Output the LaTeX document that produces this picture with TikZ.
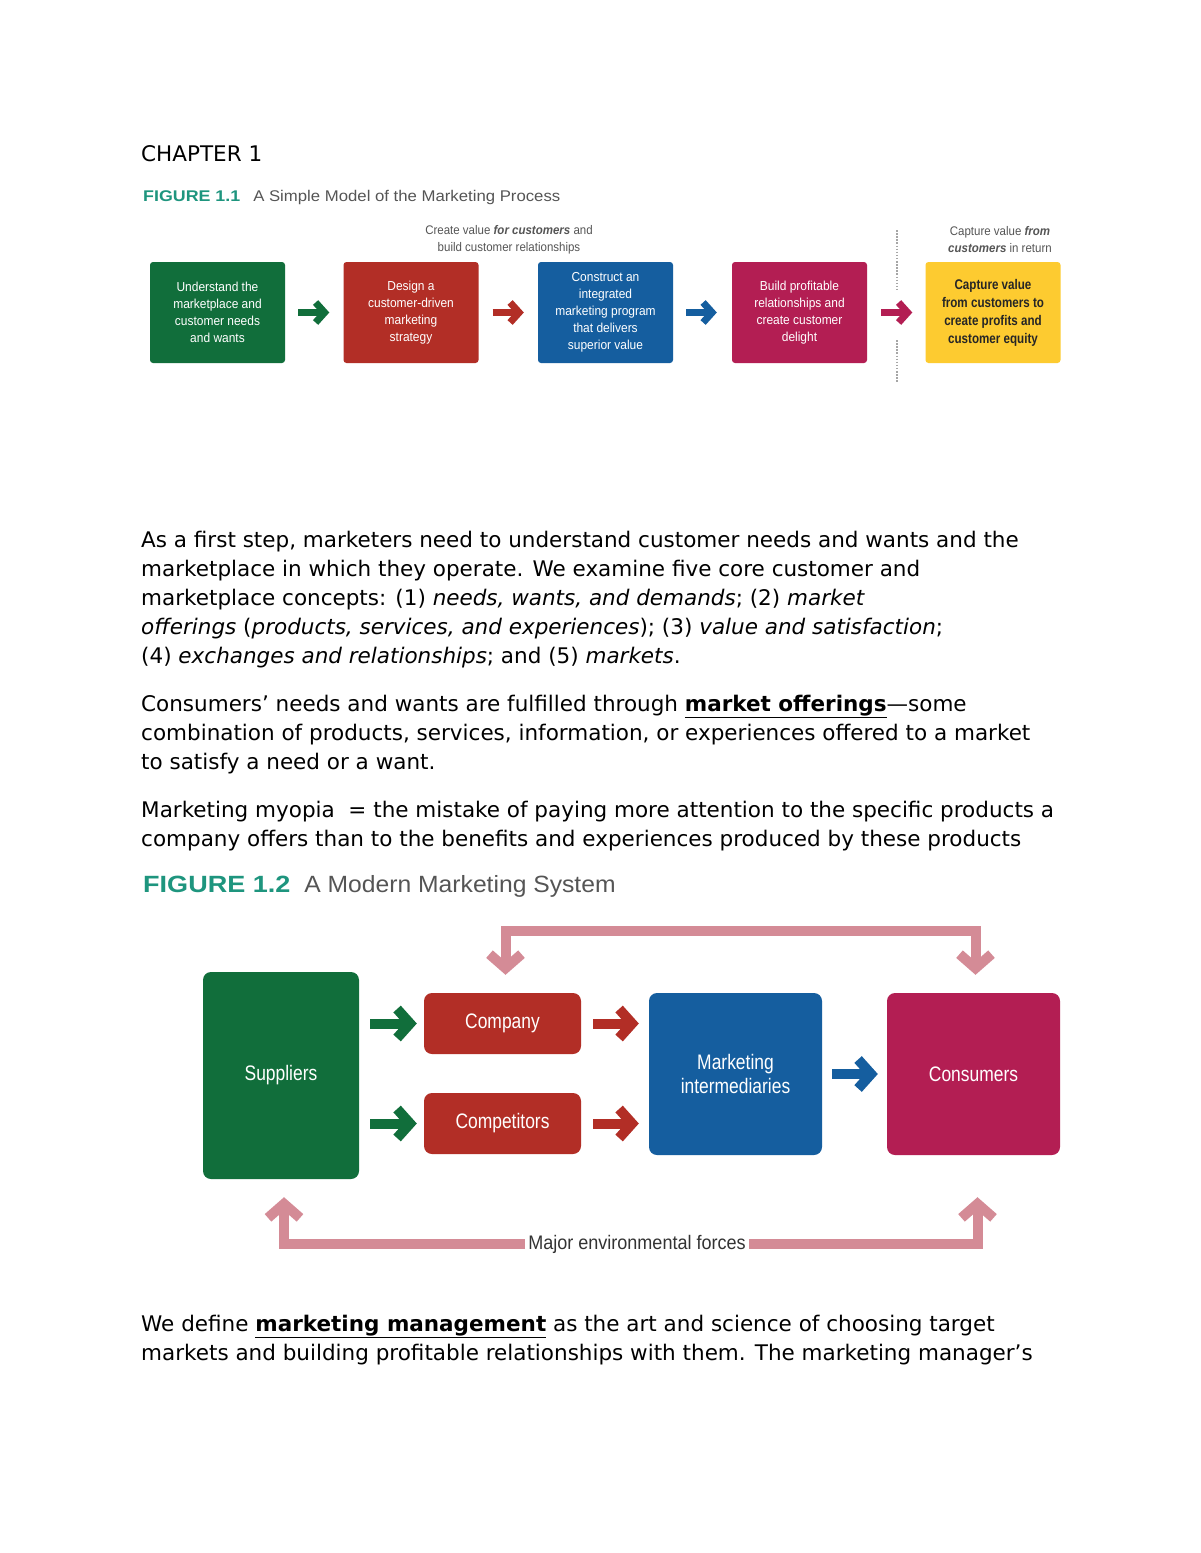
\documentclass[tikz,border=0pt]{standalone}
\usepackage{fontspec}
\setmainfont{DejaVu Sans}
\newfontfamily\cond[FakeStretch=0.83]{Liberation Sans}
\newfontfamily\condsmall[FakeStretch=0.92]{Liberation Sans}
\newfontfamily\figttl[FakeStretch=1.08]{Liberation Sans}
\newfontfamily\figttlb[FakeStretch=1.05]{Liberation Sans}
\newfontfamily\figbold[FakeStretch=1.15]{Liberation Sans}
\usetikzlibrary{arrows.meta,calc}
\definecolor{cgreen}{HTML}{116E3B}
\definecolor{cred}{HTML}{B22E26}
\definecolor{cblue}{HTML}{155E9F}
\definecolor{cmag}{HTML}{B31E53}
\definecolor{cyellow}{HTML}{FDCB30}
\definecolor{cteal}{HTML}{1E957E}
\definecolor{cpink}{HTML}{D48B96}
\definecolor{cgraytxt}{HTML}{555555}
\begin{document}
\begin{tikzpicture}[x=1pt,y=-1pt,
  bodytext/.style={anchor=base west, inner sep=0, font=\fontsize{21.5}{29}\selectfont},
  boxA/.style={rounded corners=3, minimum width=135, minimum height=101, inner sep=0, align=center, text=white, font=\condsmall\fontsize{13}{17}\selectfont},
  boxB/.style={rounded corners=8, inner sep=0, align=center, text=white, font=\cond\fontsize{21}{24}\selectfont},
  smallarrow/.style={line width=7, -{Straight Barb[length=9pt,width=20pt,line width=7pt]}},
  bigarrow/.style={line width=10, -{Straight Barb[length=13pt,width=29pt,line width=10pt]}},
  pinkline/.style={draw=cpink, line width=10, line join=miter},
  pinktip/.tip={Straight Barb[length=14pt,width=32pt,line width=10pt]},
  toplabel/.style={align=center, inner sep=0, text=cgraytxt, font=\condsmall\fontsize{12.5}{17}\selectfont}
]
\useasboundingbox[fill=white] (0,0) rectangle (1200,1553);

% ---------- header
\node[bodytext] (chap) at (141,161) {CHAPTER 1};
\node[anchor=base west, inner sep=0] (f11) at (143,201)
  {{\figbold\bfseries\color{cteal}\fontsize{15.5}{18}\selectfont FIGURE 1.1}\hspace{13pt}{\figttl\color{cgraytxt}\fontsize{15.5}{18}\selectfont A Simple Model of the Marketing Process}};

% ---------- figure 1.1
\node[boxA, fill=cgreen] (b1) at (217.5,312.5) {Understand the\\marketplace and\\customer needs\\and wants};
\node[boxA, fill=cred] (b2) at (411,312.5) {Design a\\customer-driven\\marketing\\strategy};
\node[boxA, fill=cblue] (b3) at (605.5,312.5) {Construct an\\integrated\\marketing program\\that delivers\\superior value};
\node[boxA, fill=cmag] (b4) at (799.5,312.5) {Build profitable\\relationships and\\create customer\\delight};
\node[boxA, fill=cyellow, text=black!85, font=\cond\bfseries\fontsize{14}{18}\selectfont] (b5) at (993,312.5) {Capture value\\from customers to\\create profits and\\customer equity};

\draw[smallarrow, cgreen, shorten <=13, shorten >=14] (b1.east) -- (b2.west);
\draw[smallarrow, cred, shorten <=14, shorten >=14] (b2.east) -- (b3.west);
\draw[smallarrow, cblue, shorten <=13, shorten >=15] (b3.east) -- (b4.west);
\draw[smallarrow, cmag, shorten <=14, shorten >=13] (b4.east) -- (b5.west);

\node[toplabel] (lab1) at (509,240) {Create value \textbf{\textit{for customers}} and\\build customer relationships};
\node[toplabel] (lab2) at (1000,240) {Capture value \textbf{\textit{from}}\\\textbf{\textit{customers}} in return};

\draw[gray!70, line width=1.3, dash pattern=on 1.5pt off 1.6pt] (897,230) -- (897,290);
\draw[gray!70, line width=1.3, dash pattern=on 1.5pt off 1.6pt] (897,340) -- (897,383);

% ---------- body text
\node[bodytext] (p1a) at (141,547) {As a first step, marketers need to understand customer needs and wants and the};
\node[bodytext] (p1b) at (141,576) {marketplace in which they operate. We examine five core customer and};
\node[bodytext] (p1c) at (141,605) {marketplace concepts: (1) \textit{needs, wants, and demands}; (2) \textit{market}};
\node[bodytext] (p1d) at (141,634) {\textit{offerings} (\textit{products, services, and experiences}); (3) \textit{value and satisfaction};};
\node[bodytext] (p1e) at (141,663) {(4) \textit{exchanges and relationships}; and (5) \textit{markets}.};

\node[bodytext] (p2a) at (141,711) {Consumers’ needs and wants are fulfilled through \underline{\textbf{market offerings}}—some};
\node[bodytext] (p2b) at (141,740) {combination of products, services, information, or experiences offered to a market};
\node[bodytext] (p2c) at (141,769) {to satisfy a need or a want.};

\node[bodytext] (p3a) at (141,817) {Marketing myopia \ = the mistake of paying more attention to the specific products a};
\node[bodytext] (p3b) at (141,846) {company offers than to the benefits and experiences produced by these products};

% ---------- figure 1.2
\node[anchor=base west, inner sep=0] (f12) at (143,892)
  {{\figbold\bfseries\color{cteal}\fontsize{23.5}{26}\selectfont FIGURE 1.2}\hspace{14pt}{\figttlb\color{cgraytxt}\fontsize{23.5}{26}\selectfont A Modern Marketing System}};

\node[boxB, fill=cgreen, minimum width=156, minimum height=207] (sup) at (281,1075.5) {Suppliers};
\node[boxB, fill=cred, minimum width=157, minimum height=61] (comp) at (502.5,1023.5) {Company};
\node[boxB, fill=cred, minimum width=157, minimum height=61] (compet) at (502.5,1123.5) {Competitors};
\node[boxB, fill=cblue, minimum width=173, minimum height=162] (inter) at (735.5,1074) {Marketing\\intermediaries};
\node[boxB, fill=cmag, minimum width=173, minimum height=162] (cons) at (973.5,1074) {Consumers};

\draw[bigarrow, cgreen, shorten <=11, shorten >=7] (sup.east |- comp.west) -- (comp.west);
\draw[bigarrow, cgreen, shorten <=11, shorten >=7] (sup.east |- compet.west) -- (compet.west);
\draw[bigarrow, cred, shorten <=12, shorten >=10] (comp.east) -- (inter.west |- comp.east);
\draw[bigarrow, cred, shorten <=12, shorten >=10] (compet.east) -- (inter.west |- compet.east);
\draw[bigarrow, cblue, shorten <=10, shorten >=9] (inter.east |- cons.west) -- (cons.west);

\coordinate (topbar) at (740,931);
\draw[pinkline, pinktip-pinktip, shorten <=18, shorten >=18] ([xshift=3]comp.north) |- (topbar) -| ([xshift=2]cons.north);

\node[inner sep=3, text=black!80, font=\condsmall\fontsize{19.6}{22}\selectfont] (env) at (637,1244) {Major environmental forces};
\draw[pinkline, -pinktip, shorten >=18] (env.west) -| ([xshift=3]sup.south);
\draw[pinkline, -pinktip, shorten >=42] (env.east) -| ([xshift=4]cons.south);

% ---------- closing text
\node[bodytext] (p4a) at (141,1331) {We define \underline{\textbf{marketing management}} as the art and science of choosing target};
\node[bodytext] (p4b) at (141,1360) {markets and building profitable relationships with them. The marketing manager’s};
\end{tikzpicture}
\end{document}
